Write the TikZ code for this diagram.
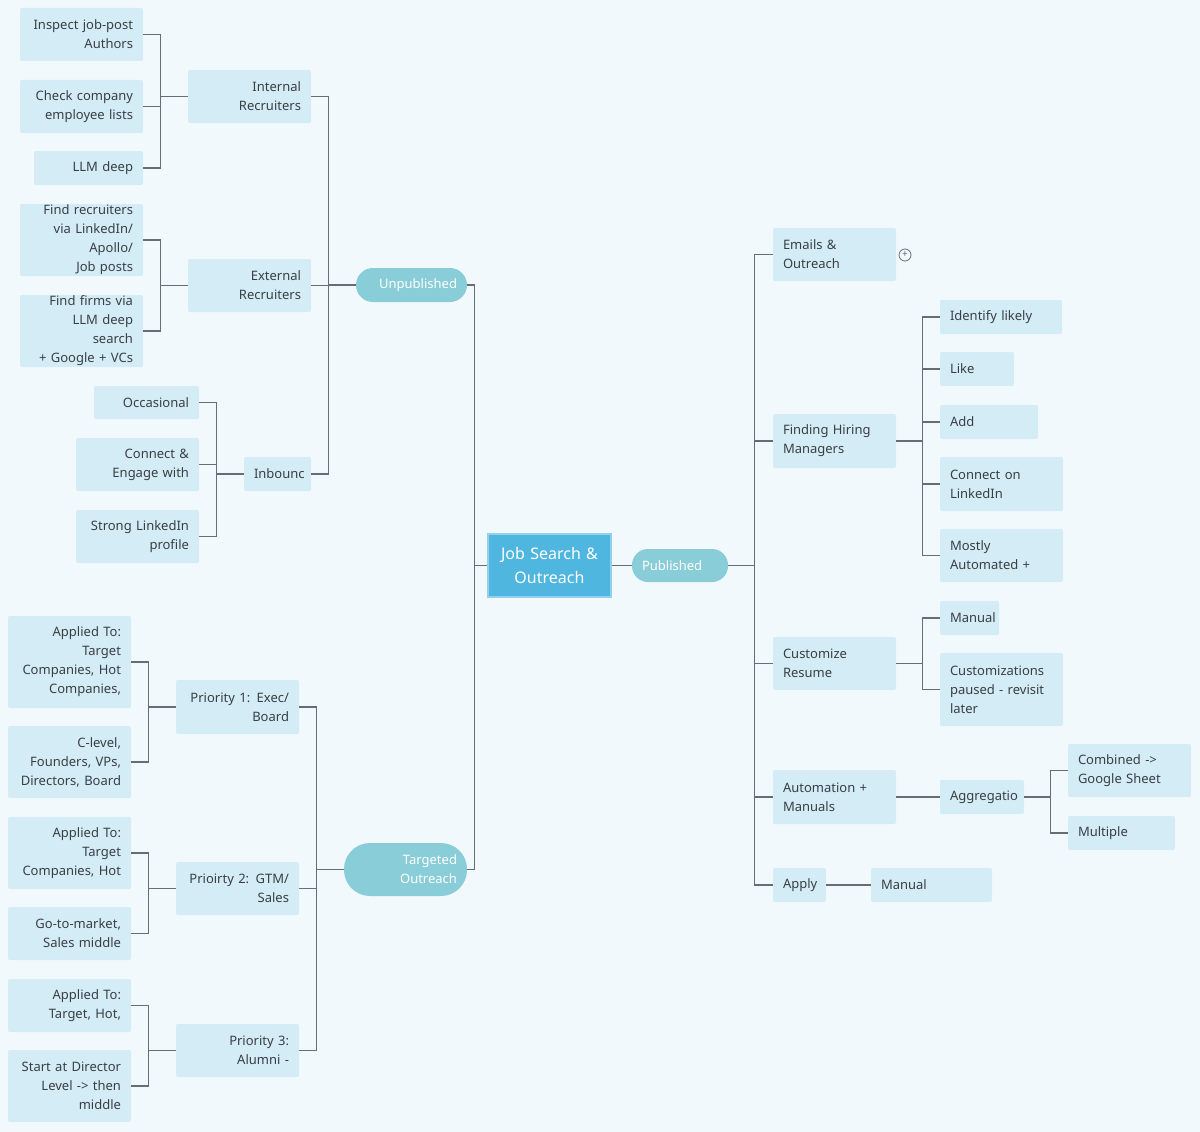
\documentclass[tikz,border=0pt]{standalone}
\usepackage{fontspec}
\setmainfont{Noto Sans}
\definecolor{bg}{HTML}{F2F9FC}
\definecolor{bxf}{HTML}{D3ECF5}
\definecolor{txt}{HTML}{3A3F44}
\definecolor{ln}{HTML}{646E75}
\definecolor{pill}{HTML}{89CDD8}
\definecolor{ctr}{HTML}{4FB6E0}
\definecolor{ctrb}{HTML}{92D1EE}
\tikzset{
 bxs/.style={fill=bxf,rounded corners=2pt,text=txt,font=\fontsize{13}{19}\selectfont},
 lft/.style={bxs,align=right},
 rgt/.style={bxs,align=left},
 pills/.style={fill=pill,text=white,font=\fontsize{13}{19}\selectfont},
 ctrs/.style={fill=ctr,draw=ctrb,line width=1.5pt,text=white,align=center,font=\fontsize{16}{24}\selectfont\bfseries},
 conn/.style={draw=ln,line width=1.3pt}
}
\newcommand\bx[7]{%
 \pgfmathsetmacro\tw{#4-#2-20}\pgfmathsetmacro\bw{#4-#2}\pgfmathsetmacro\bh{#5-#3}%
 \pgfmathsetmacro\cx{(#2+#4)/2}\pgfmathsetmacro\cy{-(#3+#5)/2}%
 \node[#6,text width=\tw pt,inner xsep=10pt,inner ysep=0pt,minimum width=\bw pt,minimum height=\bh pt] (#1) at (\cx pt,\cy pt) {#7};}
\begin{document}
\begin{tikzpicture}[x=1pt,y=1pt]
\fill[bg] (0,0) rectangle (1200,-1132);
\useasboundingbox (0,0) rectangle (1200,-1132);
% left top
\bx{a1}{20}{8}{143}{61}{lft}{Inspect job-post\\Authors}
\bx{a2}{20}{80}{143}{133}{lft}{Check company\\employee lists}
\bx{a3}{34}{151}{143}{185}{lft}{LLM deep}
\bx{a4}{20}{204}{143}{276}{lft}{Find recruiters\\via LinkedIn/\\Apollo/ Job posts}
\bx{a5}{20}{295}{143}{367}{lft}{Find firms via\\LLM deep search\\+ Google + VCs}
\bx{b1}{188}{70}{311}{123}{lft}{\bfseries Internal\\\bfseries Recruiters}
\bx{b2}{188}{259}{311}{312}{lft}{\bfseries External\\\bfseries Recruiters}
\bx{c1}{94}{386}{199}{419}{lft}{Occasional}
\bx{c2}{76}{438}{199}{491}{lft}{Connect \&\\Engage with}
\bx{c3}{76}{510}{199}{563}{lft}{Strong LinkedIn\\profile}
\bx{b3}{244}{457}{311}{491}{rgt}{\bfseries Inbounc}
\bx{u}{356}{268}{467}{302}{pills,rounded corners=17pt,align=right}{Unpublished}
\bx{t}{344}{843}{467}{896}{pills,rounded corners=26pt,align=right}{Targeted\\Outreach}
\bx{c}{488}{534}{611}{597}{ctrs}{Job Search \&\\Outreach}
\bx{p}{632}{549}{728}{582}{pills,rounded corners=16pt,align=left}{Published}
% left bottom
\bx{d1}{8}{616}{131}{708}{lft}{\textbf{Applied To:}\\Target\\Companies, Hot\\Companies,}
\bx{d2}{8}{726}{131}{798}{lft}{C-level,\\Founders, VPs,\\Directors, Board}
\bx{e1}{176}{680}{299}{734}{lft}{\bfseries Priority 1: Exec/\\\bfseries Board}
\bx{d3}{8}{817}{131}{889}{lft}{\textbf{Applied To}:\\Target\\Companies, Hot}
\bx{d4}{8}{907}{131}{960}{lft}{Go-to-market,\\Sales middle}
\bx{e2}{176}{862}{299}{915}{lft}{\bfseries Prioirty 2: GTM/\\\bfseries Sales}
\bx{d5}{8}{979}{131}{1032}{lft}{\textbf{Applied To}:\\Target, Hot,}
\bx{d6}{8}{1050}{131}{1122}{lft}{Start at Director\\Level -> then\\middle}
\bx{e3}{176}{1024}{299}{1077}{lft}{\bfseries Priority 3:\\\bfseries Alumni -}
% right
\bx{r1}{773}{228}{896}{281}{rgt}{\bfseries Emails \&\\\bfseries Outreach}
\bx{r2}{773}{414}{896}{468}{rgt}{\bfseries Finding Hiring\\\bfseries Managers}
\bx{s1}{940}{300}{1062}{334}{rgt}{Identify likely}
\bx{s2}{940}{352}{1014}{386}{rgt}{Like}
\bx{s3}{940}{405}{1038}{439}{rgt}{Add}
\bx{s4}{940}{457}{1063}{511}{rgt}{Connect on\\LinkedIn}
\bx{s5}{940}{529}{1063}{582}{rgt}{Mostly\\Automated +}
\bx{r3}{773}{637}{896}{690}{rgt}{\bfseries Customize\\\bfseries Resume}
\bx{s6}{940}{601}{999}{635}{rgt}{Manual}
\bx{s7}{940}{653}{1063}{726}{rgt}{Customizations\\paused - revisit\\later}
\bx{r4}{773}{770}{896}{824}{rgt}{\bfseries Automation +\\\bfseries Manuals}
\bx{s8}{940}{780}{1024}{814}{rgt}{Aggregatio}
\bx{q1}{1068}{744}{1191}{797}{rgt}{Combined ->\\Google Sheet}
\bx{q2}{1068}{816}{1175}{850}{rgt}{Multiple}
\bx{r5}{773}{868}{826}{902}{rgt}{\bfseries Apply}
\bx{s9}{871}{868}{992}{902}{rgt}{Manual}
\node[circle,draw=ln,line width=0.8pt,minimum size=12pt,inner sep=0pt,font=\fontsize{10}{10}\selectfont,text=ln] (plus) at (905,-255) {+};
% connectors
\foreach \k in {a1,a2,a3} \draw[conn] (b1.west) -- ++(-27,0) |- (\k.east);
\foreach \k in {a4,a5} \draw[conn] (b2.west) -- ++(-27,0) |- (\k.east);
\foreach \k in {c1,c2,c3} \draw[conn] (b3.west) -- ++(-27,0) |- (\k.east);
\foreach \k in {b1,b2,b3} \draw[conn] (u.west) -- ++(-27,0) |- (\k.east);
\foreach \k in {d1,d2} \draw[conn] (e1.west) -- ++(-27,0) |- (\k.east);
\foreach \k in {d3,d4} \draw[conn] (e2.west) -- ++(-27,0) |- (\k.east);
\foreach \k in {d5,d6} \draw[conn] (e3.west) -- ++(-27,0) |- (\k.east);
\foreach \k in {e1,e2,e3} \draw[conn] (t.west) -- ++(-27,0) |- (\k.east);
\foreach \k in {u,t} \draw[conn] (c.west) -- ++(-13,0) |- (\k.east);
\draw[conn] (c.east) -- (p.west);
\foreach \k in {r1,r2,r3,r4,r5} \draw[conn] (p.east) -- ++(26,0) |- (\k.west);
\foreach \k in {s1,s2,s3,s4,s5} \draw[conn] (r2.east) -- ++(26,0) |- (\k.west);
\foreach \k in {s6,s7} \draw[conn] (r3.east) -- ++(26,0) |- (\k.west);
\draw[conn] (r4.east) -- (s8.west);
\foreach \k in {q1,q2} \draw[conn] (s8.east) -- ++(26,0) |- (\k.west);
\draw[conn] (r5.east) -- (s9.west);
\end{tikzpicture}
\end{document}
